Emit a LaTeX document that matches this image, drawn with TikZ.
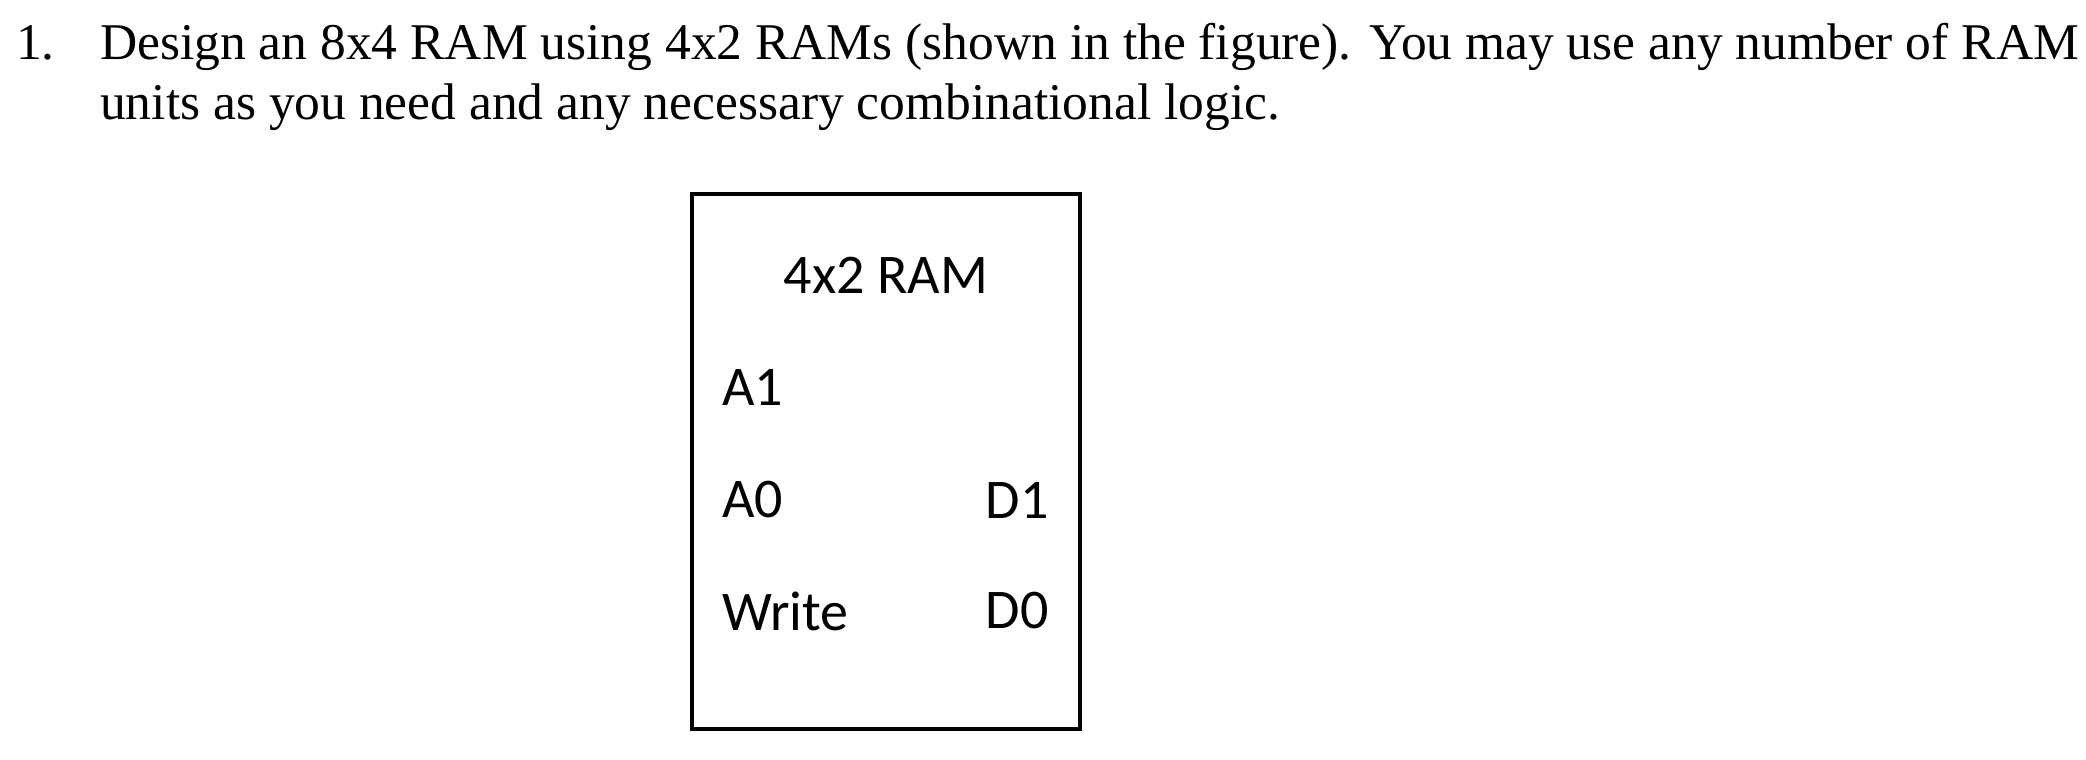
\documentclass[tikz,border=0pt]{standalone}
\usepackage{fontspec}
\setmainfont{Liberation Serif}
\newfontfamily\calfont{Carlito}
\begin{document}
\begin{tikzpicture}[x=1pt,y=1pt,
  qtext/.style={font=\fontsize{51.5}{60}\selectfont, anchor=base west, inner sep=0},
  lbl/.style={font=\calfont\fontsize{56}{64}\selectfont, inner sep=0}]
\useasboundingbox (0,0) rectangle (2086,760);
\node[qtext] (num) at (16,700) {1.};
\node[qtext] (l1) at (100,700) {Design an 8x4 RAM using 4x2 RAMs (shown in the figure). You may use any number of RAM};
\node[qtext] (l2) at (100,640) {units as you need and any necessary combinational logic.};
\node[draw, line width=3.5, minimum width=388, minimum height=535, inner sep=0] (box) at (886,298.5) {};
\node[lbl] (t) at (886,485) {4x2 RAM};
\node[lbl, anchor=west] (a1) at (722,373) {A1};
\node[lbl, anchor=west] (a0) at (722,260) {A0};
\node[lbl, anchor=west] (w) at (722,149) {Write};
\node[lbl, anchor=east] (d1) at (1049,260) {D1};
\node[lbl, anchor=east] (d0) at (1049,149) {D0};
\end{tikzpicture}
\end{document}
